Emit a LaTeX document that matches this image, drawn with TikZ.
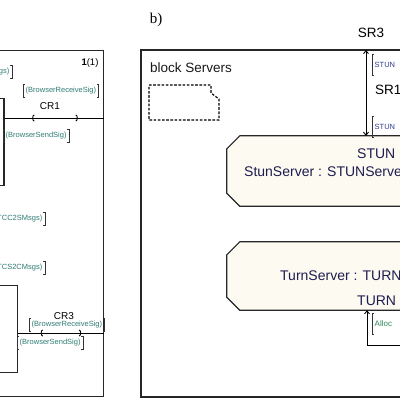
\documentclass[tikz,border=0pt]{standalone}
\usepackage{fontspec}
\setmainfont{Liberation Sans}
\newfontfamily\serifb{Liberation Serif}
\usetikzlibrary{arrows.meta,decorations.markings}
\definecolor{sigc}{HTML}{2F7C74}
\definecolor{stunc}{HTML}{2B3A8C}
\definecolor{navy}{HTML}{1F1D4F}
\definecolor{cream}{HTML}{FCFAF1}
\definecolor{allocc}{HTML}{2E8A5A}
\definecolor{framec}{HTML}{262626}
\tikzset{
  sig/.style={font=\fontsize{7.5}{8}\selectfont, text=sigc, inner xsep=2.5pt, inner ysep=0pt, minimum height=12pt},
  sigtall/.style={sig, minimum height=20pt, text=stunc, font=\fontsize{7.5}{8}\selectfont},
  brk/.style={draw=black!80, line width=0.8pt},
  lframe/.style={draw=framec, line width=1pt, inner sep=0pt},
  rframe/.style={draw=framec, line width=1.3pt, inner sep=0pt},
  blockbox/.style={inner sep=0pt},
  blockline/.style={draw=framec, line width=1.2pt, fill=cream, line join=miter},
  lblock/.style={draw=framec, line width=1pt, inner sep=0pt},
  chan/.style={draw=black, line width=0.9pt},
  chanmarks/.style={chan, postaction={decorate, decoration={markings,
      mark=at position #1 with {\arrowreversed{Arc Barb[length=2pt,width=7pt]}},
      mark=at position 0.74 with {\arrow{Arc Barb[length=2pt,width=7pt]}}}}},
  endtip/.style={chan},
  lbl/.style={font=\fontsize{10}{12}\selectfont, inner sep=0pt},
  big/.style={font=\fontsize{14}{16}\selectfont, text=navy, inner sep=0pt},
  mid/.style={font=\fontsize{13.5}{16}\selectfont, inner sep=0pt},
  dashicon/.style={draw=black, line width=1.1pt, dash pattern=on 2.6pt off 1.6pt}
}
\newcommand{\sigboth}[4]{%
  \node[sig, anchor=#3] (#1) at (#2) {#4};
  \draw[brk] ([xshift=2pt]#1.north west) -- (#1.north west) -- (#1.south west) -- ([xshift=2pt]#1.south west);
  \draw[brk] ([xshift=-2pt]#1.north east) -- (#1.north east) -- (#1.south east) -- ([xshift=-2pt]#1.south east);}
\newcommand{\sigright}[4]{%
  \node[sig, anchor=#3] (#1) at (#2) {#4};
  \draw[brk] ([xshift=-2pt]#1.north east) -- (#1.north east) -- (#1.south east) -- ([xshift=-2pt]#1.south east);}
\newcommand{\sigleft}[5]{%
  \node[sigtall, anchor=#3, #5] (#1) at (#2) {#4};
  \draw[brk] ([xshift=2pt]#1.north west) -- (#1.north west) -- (#1.south west) -- ([xshift=2pt]#1.south west);}
\begin{document}
\begin{tikzpicture}[x=1pt,y=-1pt]
\useasboundingbox (0,0) rectangle (400,400);
\clip (0,0) rectangle (400,400);
\fill[white] (0,0) rectangle (400,400);

% ---------------- left panel ----------------
\node[lframe, minimum width=123pt, minimum height=346pt] (fl) at (41.5,223) {};
\node[lblock, minimum width=24pt, minimum height=87pt] (b1) at (-8,141.5) {};
\node[lblock, minimum width=37pt, minimum height=87pt] (b2) at (-1.5,328.5) {};
\node[lbl, font=\fontsize{9.5}{11}\selectfont] (pg) at (90,63) {\textbf{1}(1)};

\sigright{s0}{12,72}{east}{gs)}
\sigboth{s1}{23,91}{west}{(BrowserReceiveSig)}
\node[lbl] (cr1) at (50,106) {CR1};
\coordinate (f1) at (fl.east |- 0,118);
\draw[chanmarks=0.28] (b1.east |- f1) -- (f1);
\sigboth{s2}{3,136}{west}{(BrowserSendSig)}

\sigright{s3}{45,219}{east}{TCC2SMsgs)}
\sigright{s4}{45,268}{east}{TCS2CMsgs)}

\node[lbl] (cr3) at (64,316) {CR3};
\sigboth{s5}{29,325}{west}{(BrowserReceiveSig)}
\coordinate (f3) at (fl.east |- 0,333);
\draw[chanmarks=0.27] (b2.east |- f3) -- (f3);
\sigboth{s6}{17,343}{west}{(BrowserSendSig)}

% ---------------- right panel ----------------
\node[inner sep=0pt, font=\serifb\fontsize{15}{17}\selectfont] (lb) at (156,20) {b)};
\node[rframe, minimum width=279pt, minimum height=347pt] (fr) at (280.5,223.5) {};
\node[mid, anchor=west, text=black!90] (bs) at (150,68) {block Servers};
\draw[dashicon] (149,85) -- (211,85) -- (211,93) -- (219,99) -- (219,120) -- (149,120) -- cycle;

% STUN block
\node[blockbox, minimum width=193pt, minimum height=70pt] (stun) at (323.5,171) {};
\draw[blockline] ([xshift=13pt]stun.north west) -- (stun.north east) -- (stun.south east)
  -- ([xshift=13pt]stun.south west) -- ([yshift=13pt]stun.south west)
  -- ([yshift=-13pt]stun.north west) -- cycle;
\node[big, anchor=west] (st1) at (357,154) {STUN};
\node[big, anchor=west] (st2) at (244,172) {StunServer : STUNServe};

% TURN block
\node[blockbox, minimum width=193pt, minimum height=68pt] (turn) at (323.5,276) {};
\draw[blockline] ([xshift=13pt]turn.north west) -- (turn.north east) -- (turn.south east)
  -- ([xshift=13pt]turn.south west) -- ([yshift=13pt]turn.south west)
  -- ([yshift=-13pt]turn.north west) -- cycle;
\node[big, anchor=west] (tu1) at (280,276) {TurnServer : TURN};
\node[big, anchor=west] (tu2) at (357,301) {TURN};

% SR3 channel
\node[mid] (sr3) at (371,33) {SR3};
\coordinate (c3) at (366,50);
\draw[endtip, {Straight Barb[length=3pt,width=5pt]}-{Straight Barb[length=3pt,width=5pt]}] (c3) -- (c3 |- stun.north);
\sigleft{sl1}{372,65}{west}{STUN}{}
\node[mid, anchor=west] (sr1) at (375,90) {SR1};
\sigleft{sl2}{372,127}{west}{STUN}{}

% TURN channel
\coordinate (t1) at (367,345);
\coordinate (t2) at (fr.east |- t1);
\draw[endtip, -{Straight Barb[length=3pt,width=5pt]}] (t2) -- (t1) -- (t1 |- turn.south);
\sigleft{sl3}{372,324}{west}{Alloc}{text=allocc, font=\fontsize{8}{9}\selectfont}
\end{tikzpicture}
\end{document}
